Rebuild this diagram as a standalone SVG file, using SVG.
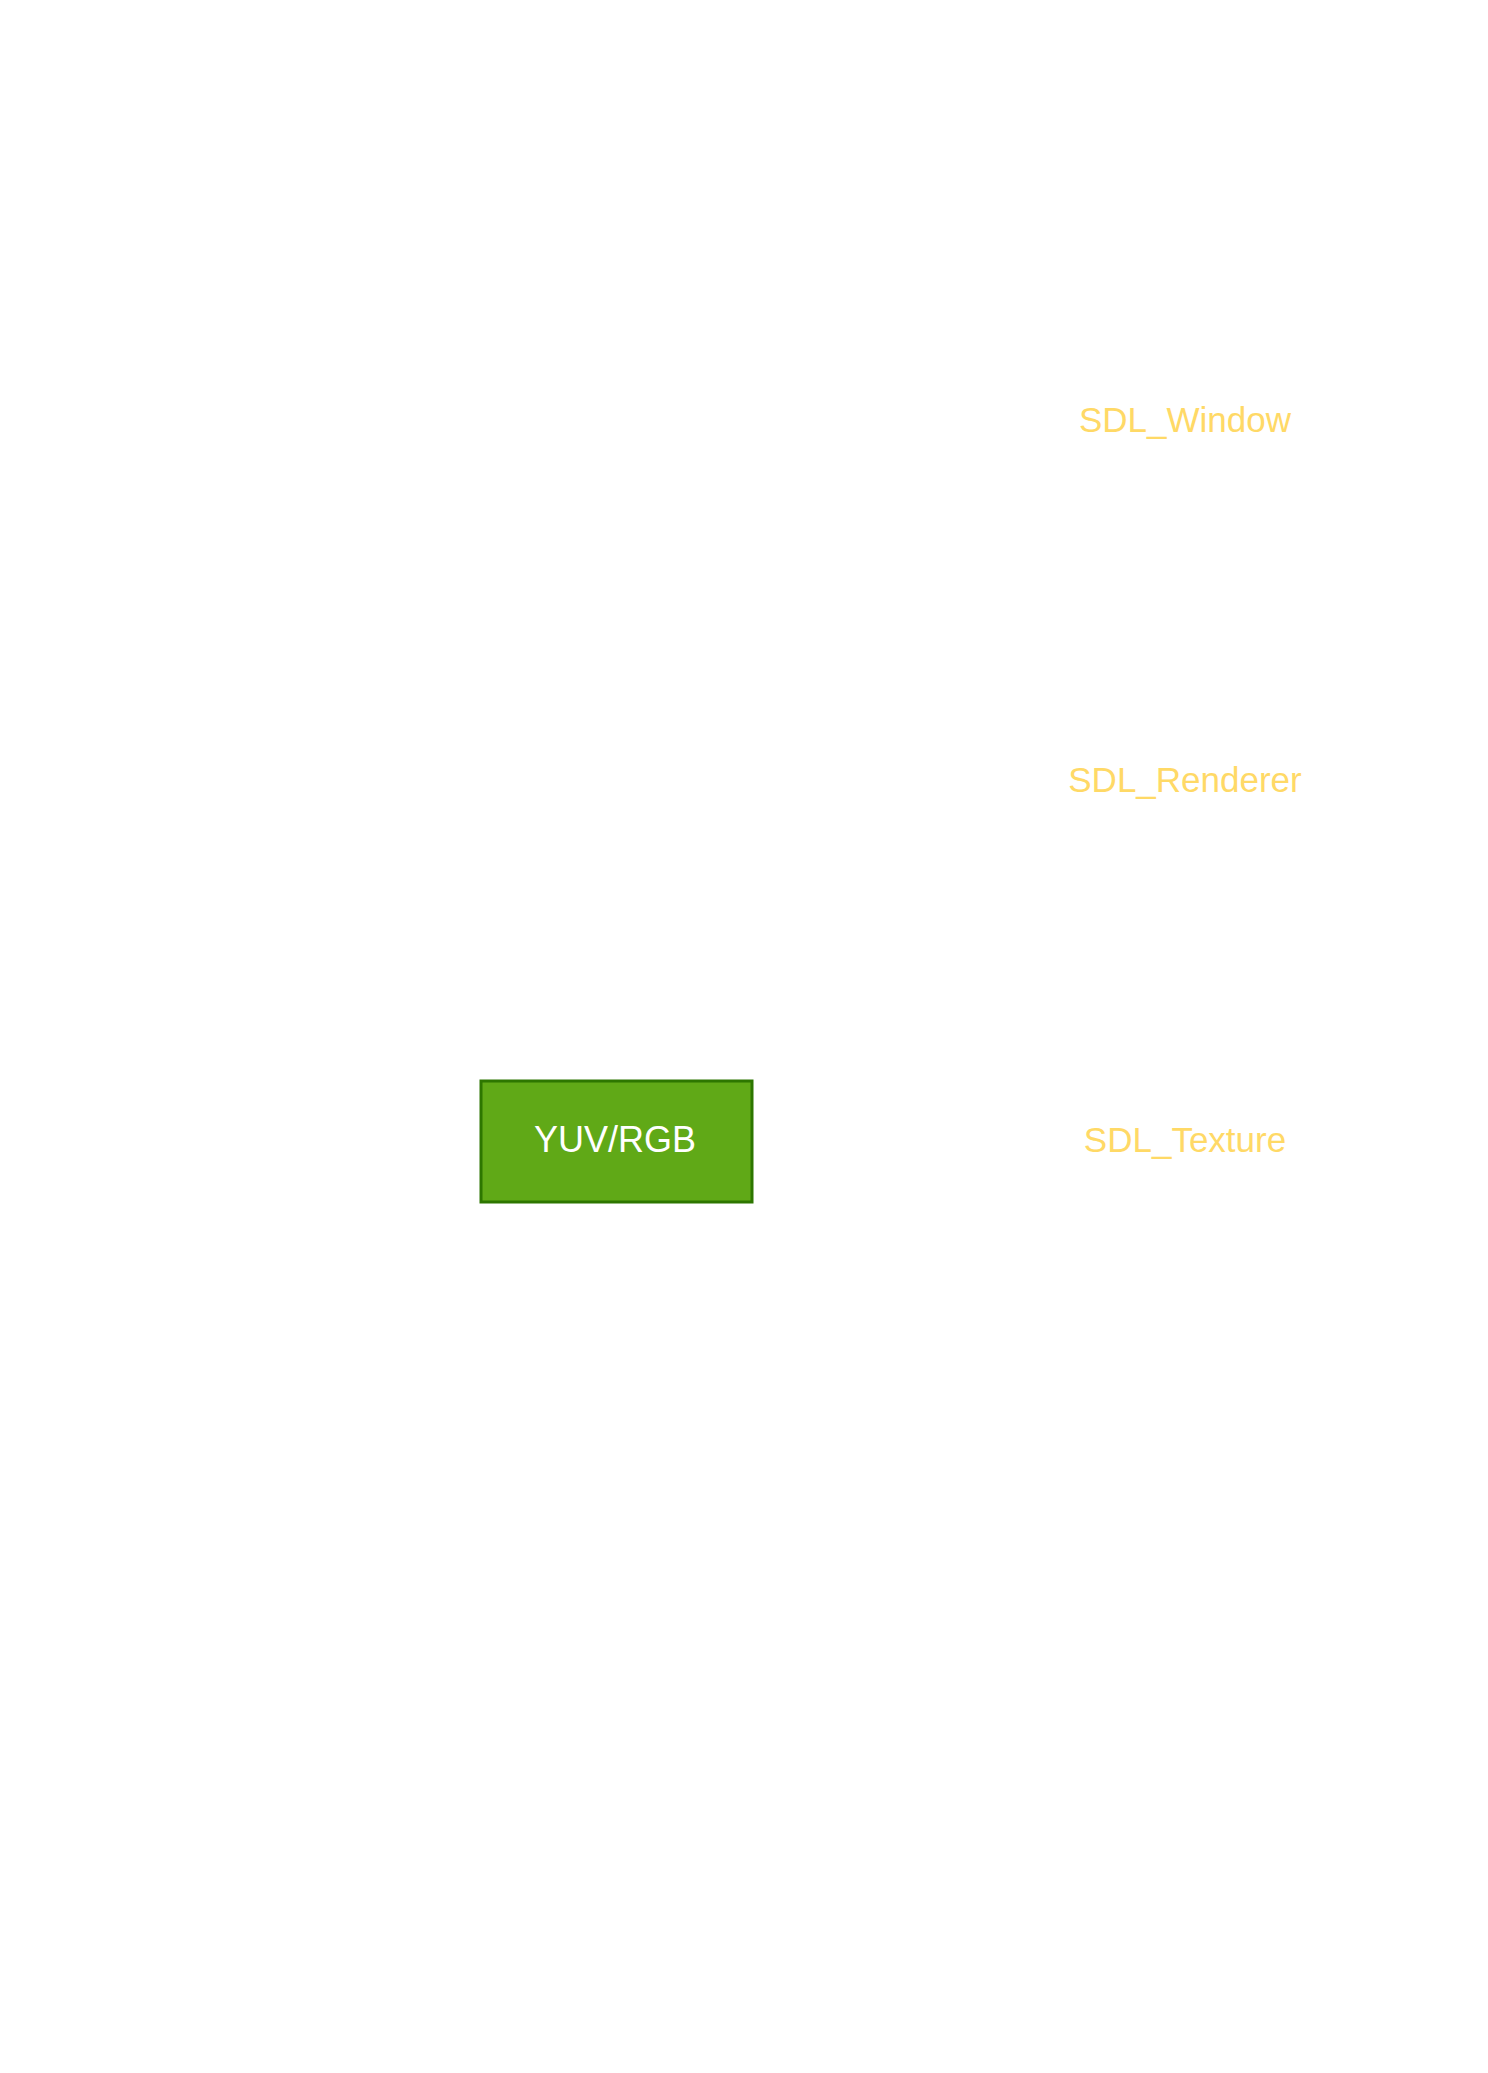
<svg xmlns="http://www.w3.org/2000/svg" width="1488" height="2073" viewBox="0 0 1488 2073">
<style>
.lbl{font-family:"Liberation Sans",Arial,sans-serif;font-size:35px;fill:#FFD966;text-anchor:middle}
.node{fill:#60A917;stroke:#2D7600;stroke-width:3}
.ntxt{font-family:"Liberation Sans",Arial,sans-serif;font-size:36px;fill:#FFFFFF;text-anchor:middle}
</style>
<rect width="1488" height="2073" fill="#FFFFFF"/>
<g id="connectors"/>
<g id="sdl_window"><text class="lbl" x="1185" y="432">SDL_Window</text></g>
<g id="sdl_renderer"><text class="lbl" x="1185" y="792">SDL_Renderer</text></g>
<g id="sdl_texture"><text class="lbl" x="1185" y="1152">SDL_Texture</text></g>
<g id="yuv_rgb"><rect class="node" x="481" y="1081" width="271" height="121"/><text class="ntxt" x="615" y="1152">YUV/RGB</text></g>
</svg>
